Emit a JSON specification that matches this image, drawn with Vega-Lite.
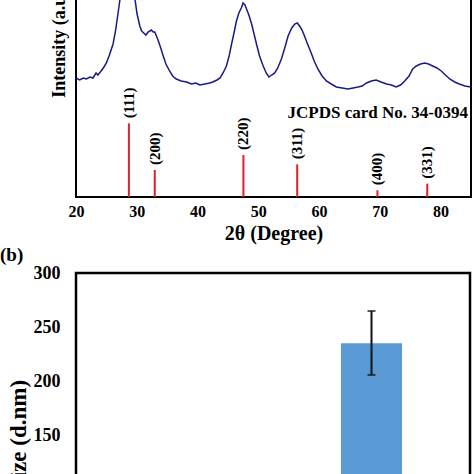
{
 "$schema": "https://vega.github.io/schema/vega-lite/v6.json",
 "padding": {"top": -116, "left": -2, "right": 0, "bottom": 0},
 "background": "white",
 "config": {
   "font": "Liberation Serif",
   "axis": {"labelFont": "Liberation Serif", "titleFont": "Liberation Serif", "labelFontWeight": "bold", "titleFontWeight": "bold", "labelColor": "black", "titleColor": "black", "grid": false},
   "title": {"font": "Liberation Serif", "fontWeight": "bold", "color": "black"}
 },
 "datasets": {
   "xrd": [
     {"theta":20.0,"i":119},{"theta":20.6,"i":117},{"theta":21.2,"i":119},{"theta":21.7,"i":118},{"theta":22.3,"i":120},{"theta":22.8,"i":119},{"theta":23.3,"i":124},{"theta":23.6,"i":122},{"theta":24.0,"i":125},{"theta":24.5,"i":129},{"theta":25.0,"i":134},{"theta":25.5,"i":142},{"theta":26.1,"i":153},{"theta":26.5,"i":166},{"theta":26.9,"i":183},{"theta":27.2,"i":196},{"theta":27.6,"i":215},{"theta":28.0,"i":250},{"theta":28.5,"i":285},{"theta":29.0,"i":270},{"theta":29.4,"i":225},{"theta":29.7,"i":198},{"theta":30.05,"i":183},{"theta":30.5,"i":171},{"theta":30.8,"i":166},{"theta":31.15,"i":164},{"theta":31.5,"i":162},{"theta":31.86,"i":165},{"theta":32.4,"i":167},{"theta":32.7,"i":165},{"theta":32.96,"i":165},{"theta":33.3,"i":160},{"theta":33.5,"i":157},{"theta":34.0,"i":148},{"theta":34.3,"i":142},{"theta":34.8,"i":133},{"theta":35.4,"i":126},{"theta":35.9,"i":121},{"theta":36.5,"i":118},{"theta":37.3,"i":116},{"theta":38.2,"i":115},{"theta":39.0,"i":113},{"theta":39.7,"i":114},{"theta":40.4,"i":112},{"theta":41.2,"i":113},{"theta":42.0,"i":114},{"theta":42.5,"i":115},{"theta":43.2,"i":117},{"theta":43.7,"i":119},{"theta":44.2,"i":124},{"theta":44.75,"i":131},{"theta":45.2,"i":141},{"theta":45.6,"i":153},{"theta":46.0,"i":164},{"theta":46.4,"i":176},{"theta":46.8,"i":184},{"theta":47.2,"i":189},{"theta":47.5,"i":194},{"theta":47.65,"i":193},{"theta":47.8,"i":192},{"theta":48.0,"i":189},{"theta":48.5,"i":181},{"theta":48.9,"i":173},{"theta":49.3,"i":163},{"theta":49.7,"i":153},{"theta":50.2,"i":141},{"theta":50.8,"i":131},{"theta":51.3,"i":124},{"theta":51.75,"i":120},{"theta":52.2,"i":122},{"theta":52.7,"i":124},{"theta":53.2,"i":129},{"theta":53.8,"i":138},{"theta":54.3,"i":148},{"theta":54.9,"i":161},{"theta":55.5,"i":169},{"theta":56.0,"i":173},{"theta":56.4,"i":174},{"theta":56.8,"i":171},{"theta":57.2,"i":167},{"theta":57.6,"i":161},{"theta":58.1,"i":153},{"theta":58.7,"i":144},{"theta":59.2,"i":136},{"theta":59.8,"i":128},{"theta":60.5,"i":121},{"theta":61.2,"i":116},{"theta":62.0,"i":113},{"theta":62.85,"i":110},{"theta":63.8,"i":109},{"theta":64.75,"i":108},{"theta":65.6,"i":109},{"theta":66.4,"i":110},{"theta":67.1,"i":111},{"theta":67.8,"i":114},{"theta":68.6,"i":116},{"theta":69.4,"i":117},{"theta":70.2,"i":115},{"theta":71.1,"i":113},{"theta":71.9,"i":112},{"theta":72.7,"i":110},{"theta":73.4,"i":112},{"theta":74.1,"i":116},{"theta":74.8,"i":121},{"theta":75.4,"i":128},{"theta":76.0,"i":131},{"theta":76.7,"i":133},{"theta":77.4,"i":134},{"theta":78.0,"i":133},{"theta":78.7,"i":131},{"theta":79.4,"i":129},{"theta":80.1,"i":126},{"theta":80.8,"i":122},{"theta":81.5,"i":118},{"theta":82.3,"i":115},{"theta":83.1,"i":113},{"theta":84.0,"i":111},{"theta":85.0,"i":110}
   ],
   "sticks": [
     {"theta":28.7,"i":73.7,"hkl":"(111)"},
     {"theta":32.96,"i":27,"hkl":"(200)"},
     {"theta":47.55,"i":42,"hkl":"(220)"},
     {"theta":56.4,"i":32.7,"hkl":"(311)"},
     {"theta":69.6,"i":6.7,"hkl":"(400)"},
     {"theta":77.8,"i":13.3,"hkl":"(331)"}
   ],
   "note": [{"theta":84.5,"i":79.3,"label":"JCPDS card No. 34-0394"}],
   "size": [
     {"sample":"Sample 1","size":95,"lo":83,"hi":107},
     {"sample":"Sample 2","size":235,"lo":205.6,"hi":264.8}
   ]
 },
 "spacing": 0,
 "vconcat": [
   {
     "width": 395,
     "height": 312,
     "view": {"stroke": "black", "strokeWidth": 2},
     "layer": [
       {
         "data": {"name": "xrd"},
         "mark": {"type": "line", "color": "#1a1a85", "strokeWidth": 1.5, "clip": true},
         "encoding": {
           "x": {"field": "theta", "type": "quantitative", "scale": {"domain": [20, 85], "nice": false},
                 "axis": {"values": [20,30,40,50,60,70,80], "title": "2θ (Degree)", "ticks": false, "domain": false, "labelFontSize": 16, "labelPadding": 6, "titleFontSize": 20, "titlePadding": 4, "labelFlush": false, "labelOverlap": false}},
           "y": {"field": "i", "type": "quantitative", "scale": {"domain": [0, 312], "nice": false},
                 "axis": {"title": "Intensity (a.u.)", "labels": false, "ticks": false, "domain": false, "titleFontSize": 18, "titlePadding": 8}}
         }
       },
       {
         "data": {"name": "sticks"},
         "mark": {"type": "rule", "color": "#e0202a", "strokeWidth": 2},
         "encoding": {
           "x": {"field": "theta", "type": "quantitative"},
           "y": {"field": "i", "type": "quantitative"},
           "y2": {"datum": 0}
         }
       },
       {
         "data": {"name": "sticks"},
         "mark": {"type": "text", "angle": 270, "align": "left", "baseline": "middle", "dx": 5, "font": "Liberation Serif", "fontWeight": "bold", "fontSize": 15, "color": "black"},
         "encoding": {
           "x": {"field": "theta", "type": "quantitative"},
           "y": {"field": "i", "type": "quantitative"},
           "text": {"field": "hkl"}
         }
       },
       {
         "data": {"name": "note"},
         "mark": {"type": "text", "align": "right", "baseline": "alphabetic", "font": "Liberation Serif", "fontWeight": "bold", "fontSize": 17, "color": "black"},
         "encoding": {
           "x": {"field": "theta", "type": "quantitative"},
           "y": {"field": "i", "type": "quantitative"},
           "text": {"field": "label"}
         }
       }
     ]
   },
   {
     "width": 394,
     "height": 324,
     "title": {"text": "(b)", "anchor": "start", "frame": "group", "dx": -76, "fontSize": 19, "offset": -1},
     "view": {"stroke": "black", "strokeWidth": 2.5},
     "data": {"name": "size"},
     "layer": [
       {
         "mark": {"type": "bar", "color": "#5b9bd5"},
         "encoding": {
           "x": {"field": "sample", "type": "nominal", "scale": {"paddingInner": 0.69, "paddingOuter": 0.345}, "axis": {"title": null, "labelAngle": 0, "labelFontSize": 18, "ticks": false, "domain": false}},
           "y": {"field": "size", "type": "quantitative", "scale": {"domain": [0, 300], "nice": false},
                 "axis": {"values": [0,50,100,150,200,250,300], "title": "Size (d.nm)", "ticks": false, "domain": false, "labelFontSize": 18, "labelPadding": 16, "titleFontSize": 23, "titlePadding": 3}}
         }
       },
       {
         "mark": {"type": "errorbar", "ticks": true, "size": 8, "thickness": 2, "color": "#111111"},
         "encoding": {
           "x": {"field": "sample", "type": "nominal"},
           "y": {"field": "lo", "type": "quantitative", "title": "Size (d.nm)"},
           "y2": {"field": "hi"}
         }
       }
     ]
   }
 ]
}
